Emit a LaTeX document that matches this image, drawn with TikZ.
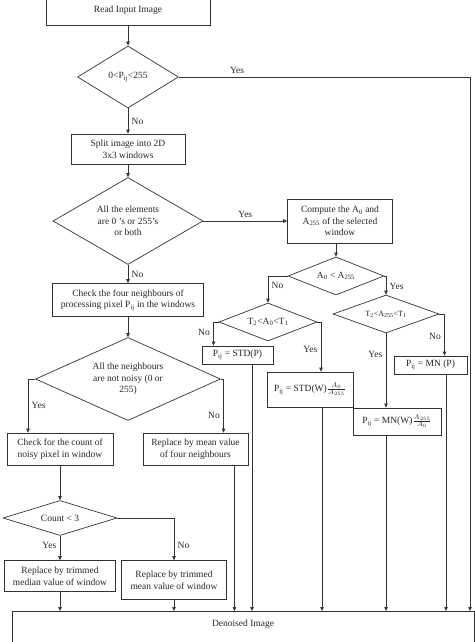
\documentclass[tikz,border=0pt]{standalone}
\usepackage{fontspec}
\setmainfont{Liberation Serif}
\usepackage{amsmath}
\usetikzlibrary{positioning, arrows.meta, shapes.geometric}

\begin{document}
\begin{tikzpicture}[
    x=1pt, y=-1pt,
    box_style/.style={draw=black!80, line width=0.7pt, rectangle, inner sep=2pt, align=center, text=black!85, font=\fontsize{9.5}{11.5}\selectfont},
    decision_style/.style={draw=black!80, line width=0.7pt, diamond, inner sep=0pt, align=center, text=black!85, font=\fontsize{9.5}{11.5}\selectfont},
    flow_style/.style={draw=black!80, line width=0.7pt, -{Triangle[length=4pt, width=3.5pt]}},
    answer_style/.style={text=black!85, font=\fontsize{9.5}{11.5}\selectfont}
]
    \useasboundingbox (0,0) rectangle (474,642);

    % Main column
    \node[box_style, minimum width=164pt, minimum height=30pt] (read) at (128,10) {Read Input Image};
    \node[decision_style, minimum width=101pt, minimum height=62pt, shape aspect=1.6] (range) at (128,77) {0<P\textsubscript{ij}<255};
    \node[box_style, minimum width=114pt, minimum height=30pt] (split) at (128,149) {Split image into 2D\\3x3 windows};
    \node[decision_style, minimum width=150pt, minimum height=87pt, shape aspect=1.7] (all_zero) at (128,221) {All the elements\\are 0 's or 255's\\or both};
    \node[box_style, minimum width=151pt, minimum height=33pt] (check_four) at (128,300) {Check the four neighbours of\\processing pixel P\textsubscript{ij} in the windows};
    \node[decision_style, minimum width=185pt, minimum height=83pt, shape aspect=2.2] (not_noisy) at (128,379) {All the neighbours\\are not noisy (0 or\\255)};
    \node[box_style, minimum width=106pt, minimum height=32pt] (count_check) at (60,449) {Check for the count of\\noisy pixel in window};
    \node[box_style, minimum width=105pt, minimum height=32pt] (mean_four) at (195.5,449) {Replace by mean value\\of four neighbours};
    \node[decision_style, minimum width=114pt, minimum height=35pt, shape aspect=3.2] (count_less) at (60,518) {Count < 3};
    \node[box_style, minimum width=111pt, minimum height=31pt] (trim_median) at (60,576) {Replace by trimmed\\median value of window};
    \node[box_style, minimum width=105pt, minimum height=39pt] (trim_mean) at (174,580) {Replace by trimmed\\mean value of window};
    \node[box_style, anchor=north, minimum width=462pt, inner ysep=9pt, text depth=20pt] (denoised) at (243,611) {Denoised Image};

    % Right branch
    \node[box_style, minimum width=105pt, minimum height=44pt] (compute) at (340,221) {Compute the A\textsubscript{0} and\\A\textsubscript{255} of the selected\\window};
    \node[decision_style, minimum width=96pt, minimum height=38pt, shape aspect=2.5] (a_compare) at (336,276) {A\textsubscript{0} < A\textsubscript{255}};
    \node[decision_style, minimum width=98pt, minimum height=38pt, shape aspect=2.6] (t_zero) at (268,322) {T\textsubscript{2}<A\textsubscript{0}<T\textsubscript{1}};
    \node[decision_style, minimum width=106pt, minimum height=38pt, shape aspect=2.8, font=\fontsize{8}{9}\selectfont] (t_full) at (386,314) {T\textsubscript{2}<A\textsubscript{255}<T\textsubscript{1}};
    \node[box_style, minimum width=71pt, minimum height=18pt] (std_p) at (237.5,355) {P\textsubscript{ij} = STD(P)};
    \node[box_style, minimum width=86pt, minimum height=35pt] (std_w) at (310,389.5) {P\textsubscript{ij} = STD(W)$\frac{A_0}{A_{255}}$};
    \node[box_style, minimum width=88pt, minimum height=27pt] (mn_w) at (397,421.5) {P\textsubscript{ij} = MN(W)$\frac{A_{255}}{A_0}$};
    \node[box_style, minimum width=73pt, minimum height=18pt] (mn_p) at (430.5,365) {P\textsubscript{ij} = MN (P)};

    % Drop points into the output box
    \coordinate (rail) at (470,77);
    \coordinate (drop_mean) at ([xshift=39pt]mean_four.south);
    \coordinate (drop_std_p) at ([xshift=14.5pt]std_p.south);
    \coordinate (drop_std_w) at ([xshift=12pt]std_w.south);
    \coordinate (drop_mn_w) at (t_full.south |- mn_w.south);
    \coordinate (drop_mn_p) at ([xshift=15.5pt]mn_p.south);

    % Main column connectors
    \draw[flow_style] (read.south) -- (range.north);
    \draw[flow_style] (range.east) -| (denoised.north -| rail) node[pos=0.1, above, answer_style] {Yes};
    \draw[flow_style] (range.south) -- (split.north) node[midway, right, answer_style] {No};
    \draw[flow_style] (split.south) -- (all_zero.north);
    \draw[flow_style] (all_zero.east) -- (compute.west) node[midway, above, answer_style] {Yes};
    \draw[flow_style] (all_zero.south) -- (check_four.north) node[midway, right, answer_style] {No};
    \draw[flow_style] (check_four.south) -- (not_noisy.north);
    \draw[flow_style] (not_noisy.west) -| ([xshift=-32pt]count_check.north) node[pos=0.75, right, answer_style] {Yes};
    \draw[flow_style] (not_noisy.east) -| ([xshift=28pt]mean_four.north) node[pos=0.84, left, answer_style] {No};
    \draw[flow_style] (count_check.south) -- (count_less.north);
    \draw[flow_style] (count_less.south) -- (trim_median.north) node[pos=0.4, left, answer_style] {Yes};
    \draw[flow_style] (count_less.east) -| (trim_mean.north) node[pos=0.82, right, answer_style] {No};

    % Right branch connectors
    \draw[flow_style] (compute.south -| a_compare.north) -- (a_compare.north);
    \draw[flow_style] (a_compare.west) -| (t_zero.north) node[pos=0.68, right, answer_style] {No};
    \draw[flow_style] (a_compare.east) -| (t_full.north) node[pos=0.79, right, answer_style] {Yes};
    \draw[flow_style] (t_zero.west) -| ([xshift=-24pt]std_p.north) node[pos=0.71, left, answer_style] {No};
    \draw[flow_style] (t_zero.east) -| ([xshift=11pt]std_w.north) node[pos=0.78, left, answer_style] {Yes};
    \draw[flow_style] (t_full.south) -- (t_full.south |- mn_w.north) node[pos=0.29, left, answer_style] {Yes};
    \draw[flow_style] (t_full.east) -| ([xshift=14pt]mn_p.north) node[pos=0.77, left, answer_style] {No};

    % Into the output box
    \draw[flow_style] (trim_median.south) -- (trim_median.south |- denoised.north);
    \draw[flow_style] (trim_mean.south) -- (trim_mean.south |- denoised.north);
    \draw[flow_style] (drop_mean) -- (drop_mean |- denoised.north);
    \draw[flow_style] (drop_std_p) -- (drop_std_p |- denoised.north);
    \draw[flow_style] (drop_std_w) -- (drop_std_w |- denoised.north);
    \draw[flow_style] (drop_mn_w) -- (drop_mn_w |- denoised.north);
    \draw[flow_style] (drop_mn_p) -- (drop_mn_p |- denoised.north);
\end{tikzpicture}
\end{document}
